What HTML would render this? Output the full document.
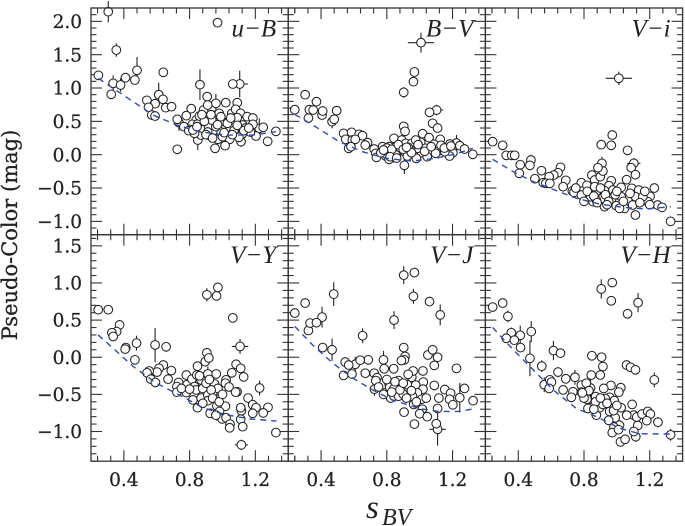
<!DOCTYPE html>
<html lang="en">
<head>
<meta charset="utf-8">
<title>Pseudo-Color vs sBV</title>
<style>
html,body{margin:0;padding:0;background:#fff;}
svg{display:block;}
.tick-label{font-family:"DejaVu Serif","Liberation Serif",serif;font-size:18.5px;fill:#222;stroke:#222;stroke-width:0.25px;}
.panel-label{font-family:"Liberation Serif",serif;font-style:italic;font-size:25px;fill:#222;}
</style>
</head>
<body>
<svg id="chart" width="685" height="526" viewBox="0 0 685 526" xmlns="http://www.w3.org/2000/svg">
  <text transform="translate(17 235) rotate(-90)" text-anchor="middle" font-family="'DejaVu Serif','Liberation Serif',serif" font-size="21" fill="#222" stroke="#222" stroke-width="0.25">Pseudo-Color (mag)</text>
  <text font-family="'Liberation Serif',serif" font-style="italic" fill="#222"><tspan x="366" y="518" font-size="33">s</tspan><tspan x="382" y="525" font-size="24">BV</tspan></text>
</svg>
<script>
const xTicks = [0.4, 0.8, 1.2];
const topYTicks = [2.0, 1.5, 1.0, 0.5, 0.0, -0.5, -1.0];
const bottomYTicks = [1.5, 1.0, 0.5, 0.0, -0.5, -1.0];

// Points that have error bars come first; yerr and xerr arrays cover the leading points only.
const ubX = [0.305,0.354,0.335,0.38,0.48,0.64,0.612,0.735,0.863,1.105,0.96,1.224,1.325,0.85,1.113,0.245,0.323,0.41,0.467,0.54,0.638,0.59,0.55,0.655,0.69,0.57,0.59,0.725,0.725,0.97,1.063,0.907,1.02,1.09,0.81,0.885,0.91,0.78,0.84,0.95,0.98,1.057,1.08,1.11,1.09,1.15,1.185,0.816,0.86,0.91,1.0,0.955,1.123,1.185,1.248,1.275,1.204,1.12,1.044,1.016,0.955,0.972,1.0,0.98,1.046,0.91,0.87,0.83,0.8,0.88,0.94,0.915,0.96,0.9,0.935,1.03,1.07,1.14,1.17,0.85,0.91,0.765,0.795,1.1,1.0,0.82,0.86,0.89,0.93,0.97,1.01,1.05,1.09,1.13,1.16,0.9,0.94,0.99,1.06,0.845,0.875];
const ubY = [2.145,1.57,1.07,1.045,1.265,1.235,0.9,0.48,1.05,1.06,0.77,0.395,0.35,0.22,0.195,1.19,0.905,1.155,1.12,0.815,0.83,0.765,0.71,0.705,0.72,0.595,0.58,0.53,0.08,1.98,1.06,0.87,0.78,0.78,0.69,0.67,0.745,0.585,0.52,0.59,0.62,0.62,0.68,0.62,0.555,0.57,0.55,0.455,0.445,0.445,0.495,0.48,0.445,0.455,0.41,0.2,0.28,0.31,0.23,0.135,0.095,0.23,0.37,0.355,0.405,0.295,0.295,0.32,0.38,0.395,0.345,0.43,0.42,0.55,0.52,0.47,0.36,0.4,0.34,0.46,0.34,0.42,0.36,0.26,0.27,0.37,0.58,0.5,0.6,0.45,0.33,0.55,0.44,0.36,0.4,0.3,0.25,0.57,0.3,0.42,0.6];
const ubYerr = [0.16,0.1,0.12,0.1,0.2,0.05,0.18,0.12,0.23,0.2,0.14,0.15,0.06,0.15,0.08];
const ubXerr = [0,0,0,0,0,0,0,0,0,0.05];
const ubCurveX = [0.245,0.335,0.457,0.578,0.72,0.86,1.02,1.185,1.325];
const ubCurveY = [1.145,0.995,0.795,0.595,0.445,0.345,0.295,0.295,0.345];

const bvX = [1.008,1.103,0.903,0.467,0.907,1.224,0.24,0.303,0.323,0.329,0.352,0.372,0.406,0.41,0.495,0.48,0.537,0.586,0.55,0.59,0.568,0.582,0.632,0.652,0.608,0.683,0.669,0.723,0.733,0.737,0.774,0.814,0.844,0.903,0.911,0.962,0.968,1.06,1.079,1.109,1.018,1.057,1.125,1.087,1.184,1.244,1.273,1.323,1.202,1.182,1.117,1.097,1.153,0.838,0.814,0.871,0.907,0.891,0.915,0.952,1.006,0.964,1.012,1.046,0.98,0.925,0.855,0.885,0.976,1.036,0.986,0.945,0.794,0.764,0.814,0.855,0.8,0.83,0.87,0.9,0.93,0.95,0.99,1.03,1.07,1.13,1.15,1.19,0.78,0.82,0.86,0.92];
const bvY = [1.68,0.67,0.935,0.495,-0.16,0.175,0.675,0.9,0.55,0.675,0.67,0.795,0.595,0.655,0.66,0.53,0.32,0.335,0.23,0.22,0.095,0.12,0.305,0.285,0.23,0.18,0.145,0.085,0.02,-0.04,0.12,0.12,0.245,0.425,0.35,1.095,1.24,0.635,0.47,0.4,0.315,0.255,0.23,0.155,0.16,0.135,0.085,0.005,0.03,-0.02,0.06,0.02,0.045,-0.045,0.045,0.045,0.045,0.22,0.17,0.17,0.185,0.02,0.03,-0.03,-0.055,-0.02,0.12,0.095,0.22,0.095,0.095,0.07,-0.02,0.03,-0.07,-0.005,0.1,0.08,0.15,0.08,0.11,0.03,0.15,0.05,0.12,0.14,0.1,0.13,0.07,-0.03,-0.05,0.11];
const bvYerr = [0.15,0.08,0.08,0.1,0.13,0.12];
const bvXerr = [0.08,0.04];
const bvCurveX = [0.24,0.349,0.511,0.652,0.794,0.956,1.097,1.218,1.323];
const bvCurveY = [0.605,0.445,0.195,0.045,-0.055,-0.095,-0.055,0.01,0.095];

const viX = [1.012,1.103,0.477,0.406,0.909,1.228,1.327,1.113,0.244,0.305,0.327,0.36,0.378,0.412,0.471,0.541,0.657,0.642,0.616,0.588,0.501,0.552,0.568,0.592,0.689,0.673,0.729,0.739,0.784,0.784,0.818,0.838,0.855,0.848,0.865,0.899,0.915,0.885,0.905,0.966,0.972,1.065,1.087,1.113,1.059,0.966,0.952,1.026,1.091,1.133,1.202,1.248,1.275,1.117,1.113,1.188,1.016,0.97,0.909,0.925,0.875,0.925,0.996,1.046,0.976,1.158,0.865,0.84,1.016,1.096,1.026,0.875,0.82,0.86,0.9,0.93,0.95,0.99,1.04,1.08,1.14,1.17,1.2,0.88,0.94,1.0,0.75,0.8];
const viY = [1.145,-0.13,-0.08,-0.28,-0.13,-0.5,-1.0,-0.905,0.195,0.14,-0.01,-0.01,-0.01,-0.15,-0.16,-0.24,-0.19,-0.27,-0.305,-0.33,-0.36,-0.42,-0.43,-0.43,-0.385,-0.48,-0.545,-0.565,-0.42,-0.605,-0.46,-0.615,-0.705,-0.305,-0.38,-0.33,-0.245,-0.195,0.15,0.14,0.295,0.065,-0.195,-0.3,-0.375,-0.39,-0.465,-0.49,-0.505,-0.53,-0.625,-0.755,-0.79,-0.705,-0.63,-0.705,-0.68,-0.655,-0.655,-0.78,-0.555,-0.54,-0.765,-0.805,-0.53,-0.63,-0.48,-0.63,-0.805,-0.755,-0.63,-0.68,-0.55,-0.62,-0.5,-0.6,-0.7,-0.6,-0.7,-0.58,-0.72,-0.55,-0.75,-0.72,-0.75,-0.55,-0.5,-0.7];
const viYerr = [0.1,0.08,0.08,0.05,0.1,0.05,0.05,0.06];
const viXerr = [0.08,0.04];
const viCurveX = [0.244,0.37,0.491,0.612,0.754,0.895,1.036,1.178,1.329];
const viCurveY = [-0.07,-0.255,-0.405,-0.52,-0.655,-0.74,-0.79,-0.815,-0.78];

const vyX = [1.107,1.115,0.477,0.59,0.905,0.911,0.966,1.226,0.244,0.305,0.374,0.356,0.327,0.335,0.412,0.408,0.467,0.657,0.64,0.689,0.614,0.602,0.554,0.541,0.564,0.592,0.669,0.733,0.723,0.723,0.78,0.784,0.78,0.814,0.848,0.844,0.87,0.83,0.84,0.88,0.82,0.87,0.848,0.911,0.911,0.905,0.895,0.917,0.964,0.972,1.063,1.083,1.111,1.057,1.129,1.022,0.962,0.952,0.972,0.931,1.018,1.089,1.156,1.184,1.204,1.277,1.248,1.184,1.115,1.111,1.018,0.925,0.982,0.998,1.022,1.046,1.044,1.111,1.123,1.325,0.86,0.9,0.94,0.98,0.75,0.8,0.88,0.92,1.0,0.96,1.04,1.08];
const vyY = [0.145,-1.18,0.19,0.165,0.84,-0.225,-0.655,-0.415,0.64,0.64,0.435,0.345,0.33,0.28,0.13,0.11,-0.035,0.14,-0.105,-0.18,-0.15,-0.2,-0.185,-0.21,-0.295,-0.34,-0.295,-0.34,-0.395,-0.47,-0.24,-0.37,-0.475,-0.295,-0.12,-0.24,-0.305,-0.395,-0.44,-0.42,-0.575,-0.55,-0.68,-0.51,-0.585,0.06,-0.06,-0.01,0.825,0.94,0.53,-0.095,-0.15,-0.21,-0.265,-0.305,-0.225,-0.36,-0.42,-0.44,-0.35,-0.465,-0.55,-0.64,-0.68,-0.675,-0.75,-0.755,-0.72,-0.68,-0.66,-0.755,-0.73,-0.83,-0.815,-0.9,-0.95,-0.835,-0.935,-1.015,-0.25,-0.35,-0.55,-0.6,-0.42,-0.43,-0.62,-0.3,-0.5,-0.78,-0.4,-0.47];
const vyYerr = [0.1,0.07,0.1,0.23,0.09,0.1,0.2,0.1];
const vyXerr = [0.05,0.04];
const vyCurveX = [0.244,0.335,0.457,0.598,0.739,0.881,1.022,1.164,1.329];
const vyCurveY = [0.3,0.12,-0.125,-0.35,-0.51,-0.68,-0.775,-0.83,-0.86];

const vjX = [1.109,0.406,0.477,0.467,0.653,0.844,0.903,0.962,1.125,1.224,0.78,0.687,0.608,0.842,0.725,1.244,1.273,0.24,0.303,0.323,0.333,0.372,0.41,0.968,1.06,0.903,0.911,0.907,0.889,1.05,1.079,1.109,1.089,0.638,0.547,0.568,0.537,0.588,0.669,0.723,0.741,0.733,0.784,0.787,0.814,0.818,0.844,0.871,0.824,0.844,0.871,0.899,0.925,0.952,0.96,1.02,1.022,0.976,1.02,0.986,0.956,1.012,0.964,1.016,1.0,1.046,0.905,0.968,1.101,1.109,1.117,1.089,1.153,1.188,1.182,1.202,1.325,0.8,0.85,0.88,0.92,0.95,0.98,1.04,0.78,0.83,0.9,0.75,0.93];
const vjY = [-0.97,0.54,0.85,0.1,0.29,0.5,1.105,0.82,0.57,-0.15,-0.035,-0.035,-0.095,-0.155,-0.43,-0.545,-0.42,0.595,0.73,0.36,0.46,0.465,0.13,1.14,0.75,0.13,0.01,-0.035,-0.045,0.03,0.1,0,-0.11,-0.04,-0.065,-0.105,-0.245,-0.225,-0.215,-0.215,-0.275,-0.315,-0.155,-0.48,-0.36,-0.405,-0.42,-0.315,-0.55,-0.525,-0.525,-0.495,-0.37,-0.27,-0.185,-0.185,-0.335,-0.375,-0.43,-0.48,-0.525,-0.565,-0.635,-0.7,-0.76,-0.8,-0.74,-0.9,-0.895,-0.69,-0.55,-0.38,-0.435,-0.485,-0.565,-0.64,-0.585,-0.3,-0.33,-0.44,-0.55,-0.45,-0.6,-0.55,-0.5,-0.47,-0.35,-0.4,-0.23];
const vjYerr = [0.22,0.14,0.16,0.15,0.1,0.12,0.12,0.1,0.14,0.06,0.12,0.05,0.1,0.05,0.09,0.2,0.06];
const vjXerr = [0.05];
const vjCurveX = [0.24,0.349,0.471,0.592,0.713,0.834,0.996,1.117,1.238,1.329];
const vjCurveY = [0.415,0.165,-0.08,-0.28,-0.44,-0.575,-0.69,-0.73,-0.73,-0.695];

const vhX = [0.337,0.358,0.412,0.479,0.471,0.543,0.558,0.614,0.642,0.745,0.84,0.905,1.129,1.228,1.115,1.25,1.327,0.244,0.305,0.327,0.376,0.414,0.592,0.602,0.588,0.657,0.673,0.689,0.733,0.723,0.784,0.814,0.784,0.848,0.844,0.818,0.871,0.875,0.844,0.895,0.875,0.824,0.907,0.972,0.966,1.065,0.915,0.899,1.059,1.083,1.113,0.964,1.024,1.012,0.956,0.984,0.929,0.915,0.97,1.026,0.956,0.99,1.016,0.982,0.972,1.01,1.022,1.05,1.093,1.103,1.121,1.153,1.188,1.204,1.182,1.127,1.103,0.83,0.87,0.9,0.94,0.98,0.8,0.86,0.92,1.0,0.79,0.95,1.06];
const vhY = [0.55,0.33,0.295,0.345,-0.015,-0.12,-0.37,0.09,-0.2,-0.27,-0.415,0.92,0.735,-0.305,-1.07,-0.875,-1.045,0.675,0.73,0.255,0.23,0.13,-0.305,-0.335,-0.42,0.055,-0.44,-0.29,-0.465,-0.54,-0.375,-0.35,-0.47,0.02,-0.24,-0.565,-0.53,-0.615,-0.68,-0.68,-0.78,-0.69,0,1.005,0.76,0.585,-0.125,-0.24,-0.105,-0.135,-0.17,-0.38,-0.41,-0.47,-0.54,-0.585,-0.555,-0.635,-0.695,-0.68,-0.73,-0.815,-0.915,-0.94,-1.015,-0.975,-1.14,-1.105,-0.635,-0.78,-0.805,-0.765,-0.73,-0.765,-0.855,-0.92,-1.0,-0.45,-0.6,-0.55,-0.62,-0.72,-0.55,-0.7,-0.42,-0.65,-0.48,-0.85,-0.78];
const vhYerr = [0.08,0.07,0.13,0.14,0.24,0.08,0.1,0.13,0.07,0.1,0.15,0.13,0.13,0.1,0.07,0.07,0.08];
const vhXerr = [];
const vhCurveX = [0.244,0.37,0.491,0.612,0.754,0.875,1.016,1.137,1.329];
const vhCurveY = [0.4,0.1,-0.17,-0.44,-0.69,-0.8,-0.955,-1.03,-1.035];

const NS = 'http://www.w3.org/2000/svg';
const svg = document.getElementById('chart');
const panelLefts = [91, 288.2, 485.4];
const panelWidth = 197.2;
const rows = {
  top: {top: 8, bottom: 234.7, min: -1.2, max: 2.2, ticks: topYTicks},
  bottom: {top: 234.7, bottom: 461.2, min: -1.4, max: 1.65, ticks: bottomYTicks}
};
const xMin = 0.2, xMax = 1.4;

function mk(tag, attrs, parent) {
  const el = document.createElementNS(NS, tag);
  for (const k in attrs) el.setAttribute(k, attrs[k]);
  parent.appendChild(el);
  return el;
}
function fmt(v) {
  return (v < 0 ? '\u2212' : '') + Math.abs(v).toFixed(1);
}

function drawPanel(key, label, col, rowName, xs, ys, yerrs, xerrs, cx, cy) {
  const row = rows[rowName];
  const x0 = panelLefts[col];
  const sx = v => x0 + (v - xMin) / (xMax - xMin) * panelWidth;
  const sy = v => row.bottom - (v - row.min) / (row.max - row.min) * (row.bottom - row.top);

  const g = mk('g', {}, svg);
  
  

  // ticks
  const ticksG = mk('g', {stroke: '#333', 'stroke-width': 1.1}, g);
  
  
  for (let i = 0; i <= 15; i++) {
    const v = 0.24 + i * 0.08;
    const major = Math.abs(((v / 0.4) % 1)) < 0.01 || Math.abs(((v / 0.4) % 1) - 1) < 0.01;
    const len = major ? 11 : 5.5;
    const X = sx(v);
    mk('line', {x1: X, x2: X, y1: row.bottom, y2: row.bottom - len}, ticksG);
    mk('line', {x1: X, x2: X, y1: row.top, y2: row.top + len}, ticksG);
  }
  const nMinY = Math.ceil(row.min * 10 - 1e-6), nMaxY = Math.floor(row.max * 10 + 1e-6);
  for (let n = nMinY; n <= nMaxY; n++) {
    const major = n % 5 === 0;
    const len = major ? 11 : 5.5;
    const Y = sy(n / 10);
    mk('line', {x1: x0, x2: x0 + len, y1: Y, y2: Y}, ticksG);
    mk('line', {x1: x0 + panelWidth, x2: x0 + panelWidth - len, y1: Y, y2: Y}, ticksG);
  }

  // y tick labels on the first column
  if (col === 0) {
    row.ticks.forEach(v => {
      const t = mk('text', {x: 82, y: sy(v) + 6.6, 'text-anchor': 'end', class: 'tick-label'}, g);
      
      
      t.textContent = fmt(v);
    });
  }
  // x tick labels on the bottom row
  if (rowName === 'bottom') {
    xTicks.forEach(v => {
      const t = mk('text', {x: sx(v), y: 486, 'text-anchor': 'middle', class: 'tick-label'}, g);
      
      
      t.textContent = v.toFixed(1);
    });
  }

  // error bars
  const barsG = mk('g', {stroke: '#222', 'stroke-width': 1.1}, g);
  
  
  yerrs.forEach((e, i) => {
    if (e > 0) mk('line', {x1: sx(xs[i]), x2: sx(xs[i]), y1: sy(ys[i] - e), y2: sy(ys[i] + e)}, barsG);
  });
  xerrs.forEach((e, i) => {
    if (e > 0) mk('line', {x1: sx(xs[i] - e), x2: sx(xs[i] + e), y1: sy(ys[i]), y2: sy(ys[i])}, barsG);
  });

  // points
  const ptsG = mk('g', {fill: '#fff', stroke: '#222', 'stroke-width': 1.05}, g);
  
  
  xs.forEach((v, i) => {
    mk('circle', {cx: sx(v), cy: sy(ys[i]), r: 4.35}, ptsG);
  });

  // dashed template curve
  const curve = mk('polyline', {
    points: cx.map((v, i) => sx(v) + ',' + sy(cy[i])).join(' '),
    fill: 'none', stroke: '#2e4bb0', 'stroke-width': 1.4, 'stroke-dasharray': '6 5'
  }, g);
  
  

  // frame
  const frame = mk('rect', {x: x0, y: row.top, width: panelWidth, height: row.bottom - row.top, fill: 'none', stroke: '#333', 'stroke-width': 1.3}, g);
  
  

  // panel label
  const lab = mk('text', {x: x0 + panelWidth - 12, y: row.top + 28.5, 'text-anchor': 'end', class: 'panel-label'}, g);
  
  
  lab.textContent = label;
}

drawPanel('u-b', 'u\u2212B', 0, 'top', ubX, ubY, ubYerr, ubXerr, ubCurveX, ubCurveY);
drawPanel('b-v', 'B\u2212V', 1, 'top', bvX, bvY, bvYerr, bvXerr, bvCurveX, bvCurveY);
drawPanel('v-i', 'V\u2212i', 2, 'top', viX, viY, viYerr, viXerr, viCurveX, viCurveY);
drawPanel('v-y', 'V\u2212Y', 0, 'bottom', vyX, vyY, vyYerr, vyXerr, vyCurveX, vyCurveY);
drawPanel('v-j', 'V\u2212J', 1, 'bottom', vjX, vjY, vjYerr, vjXerr, vjCurveX, vjCurveY);
drawPanel('v-h', 'V\u2212H', 2, 'bottom', vhX, vhY, vhYerr, vhXerr, vhCurveX, vhCurveY);
</script>
</body>
</html>
